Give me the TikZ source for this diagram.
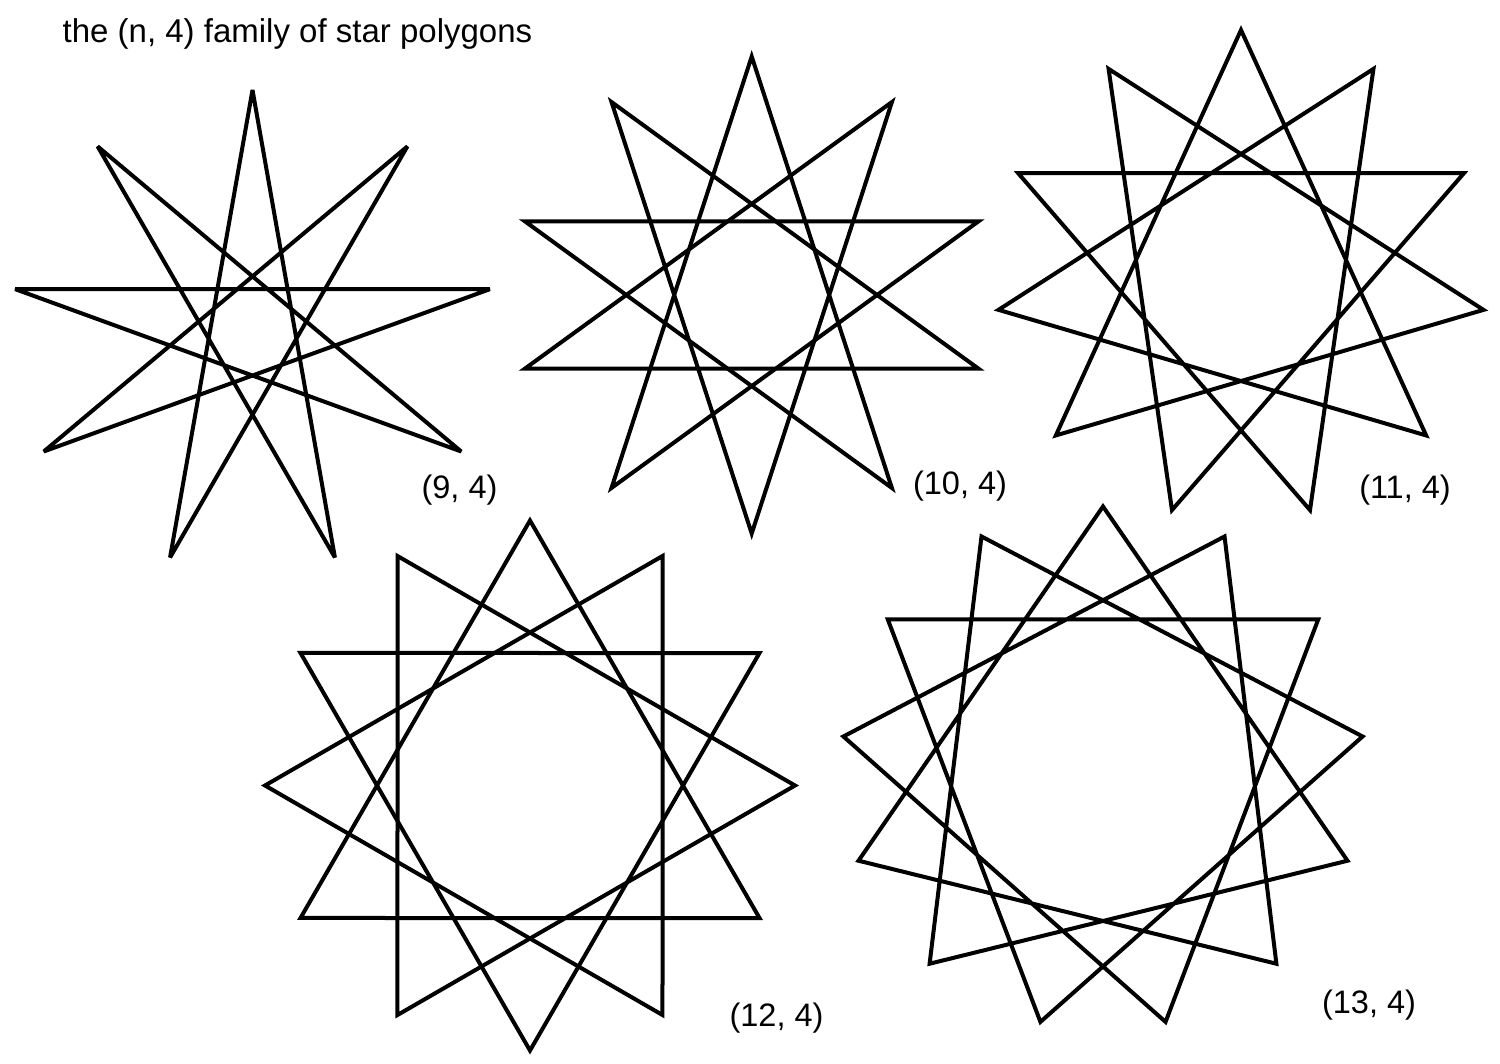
\documentclass[tikz,border=0pt]{standalone}
\usepackage{fontspec}
\setmainfont{Liberation Sans}
\tikzset{
  starline/.style={draw=black, line width=4pt, line join=miter, miter limit=4},
  lbl/.style={font=\fontsize{32.5}{38}\selectfont, inner sep=0pt, anchor=base}
}
\newcommand\starpg[5]{% cx cy R n d
  \pgfmathtruncatemacro\mmstar{#4/#5-1}%
  \foreach \s in {1,...,#5}{
    \draw[starline] ({#1+#3*cos(90+(\s-1)/#4*360)},{#2-#3*sin(90+(\s-1)/#4*360)})
      \foreach \k in {1,...,\mmstar}{ -- ({#1+#3*cos(90+(\s-1+4*\k)/#4*360)},{#2-#3*sin(90+(\s-1+4*\k)/#4*360)}) } -- cycle;
  }}
\begin{document}
\begin{tikzpicture}[x=1pt,y=-1pt]
\useasboundingbox (0,0) rectangle (1500,1064);
\fill[white] (0,0) rectangle (1500,1064);
\node[lbl, anchor=base west, font=\fontsize{33}{39}\selectfont] (title) at (62.5,43) {the (n, 4) family of star polygons};
\starpg{252.5}{331}{241}{9}{1}
\starpg{751.7}{295}{238.5}{10}{2}
\starpg{1241}{275}{245}{11}{1}
\starpg{530}{785.5}{265}{12}{4}
\starpg{1103}{768}{261.5}{13}{1}
\node[lbl] (l9) at (459.5,498) {(9, 4)};
\node[lbl] (l10) at (960,495) {(10, 4)};
\node[lbl] (l11) at (1405,498) {(11, 4)};
\node[lbl] (l12) at (776.5,1026) {(12, 4)};
\node[lbl] (l13) at (1369,1013) {(13, 4)};
\end{tikzpicture}
\end{document}
